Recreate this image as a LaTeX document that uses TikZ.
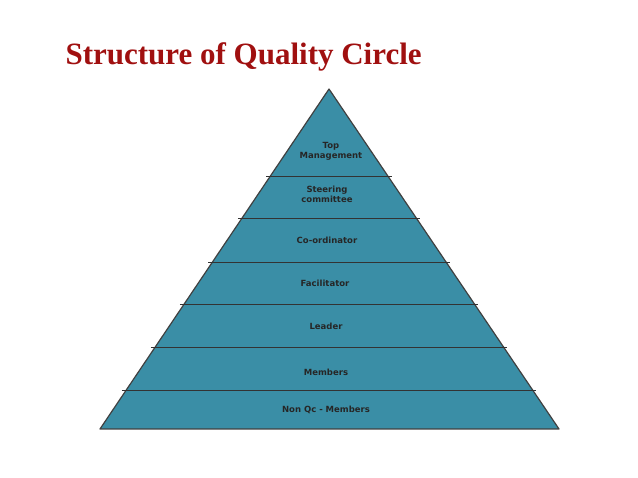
\documentclass[tikz,border=0pt]{standalone}
\usepackage{fontspec}
\setmainfont{Liberation Serif}
\newfontfamily\lbl{DejaVu Sans}
\definecolor{pyr}{HTML}{3A8EA6}
\definecolor{ttl}{HTML}{A01010}
\begin{document}
\begin{tikzpicture}[x=1pt,y=-1pt,
  lv/.style={font=\lbl\bfseries\fontsize{8.5}{10}\selectfont, align=center, text=black!85},
  sep/.style={draw=black!80, line width=0.8pt}]
\useasboundingbox (0,0) rectangle (638,478);
\node[anchor=west, text=ttl, font=\bfseries\fontsize{31}{34}\selectfont] (title) at (62,57) {Structure of Quality Circle};
\coordinate (apex) at (329,89);
\coordinate (bl) at (100,429);
\coordinate (br) at (559,429);
\fill[pyr] (apex) -- (bl) -- (br) -- cycle;
\draw[black!75, line width=1.2pt, line join=round] (apex) -- (bl) -- (br) -- cycle;
\foreach \y in {176,218,262,304,347,390}{
  \pgfmathsetmacro{\hw}{0.675*(\y-89)+4}
  \draw[sep] (329-\hw,\y) -- (329+\hw,\y);
}
\node[lv] (l1) at (331,151) {Top\\Management};
\node[lv] (l2) at (327,194) {Steering\\committee};
\node[lv] (l3) at (327,240) {Co-ordinator};
\node[lv] (l4) at (325,283) {Facilitator};
\node[lv] (l5) at (326,326) {Leader};
\node[lv] (l6) at (326,372) {Members};
\node[lv] (l7) at (326,410) {Non Qc - Members};
\end{tikzpicture}
\end{document}
